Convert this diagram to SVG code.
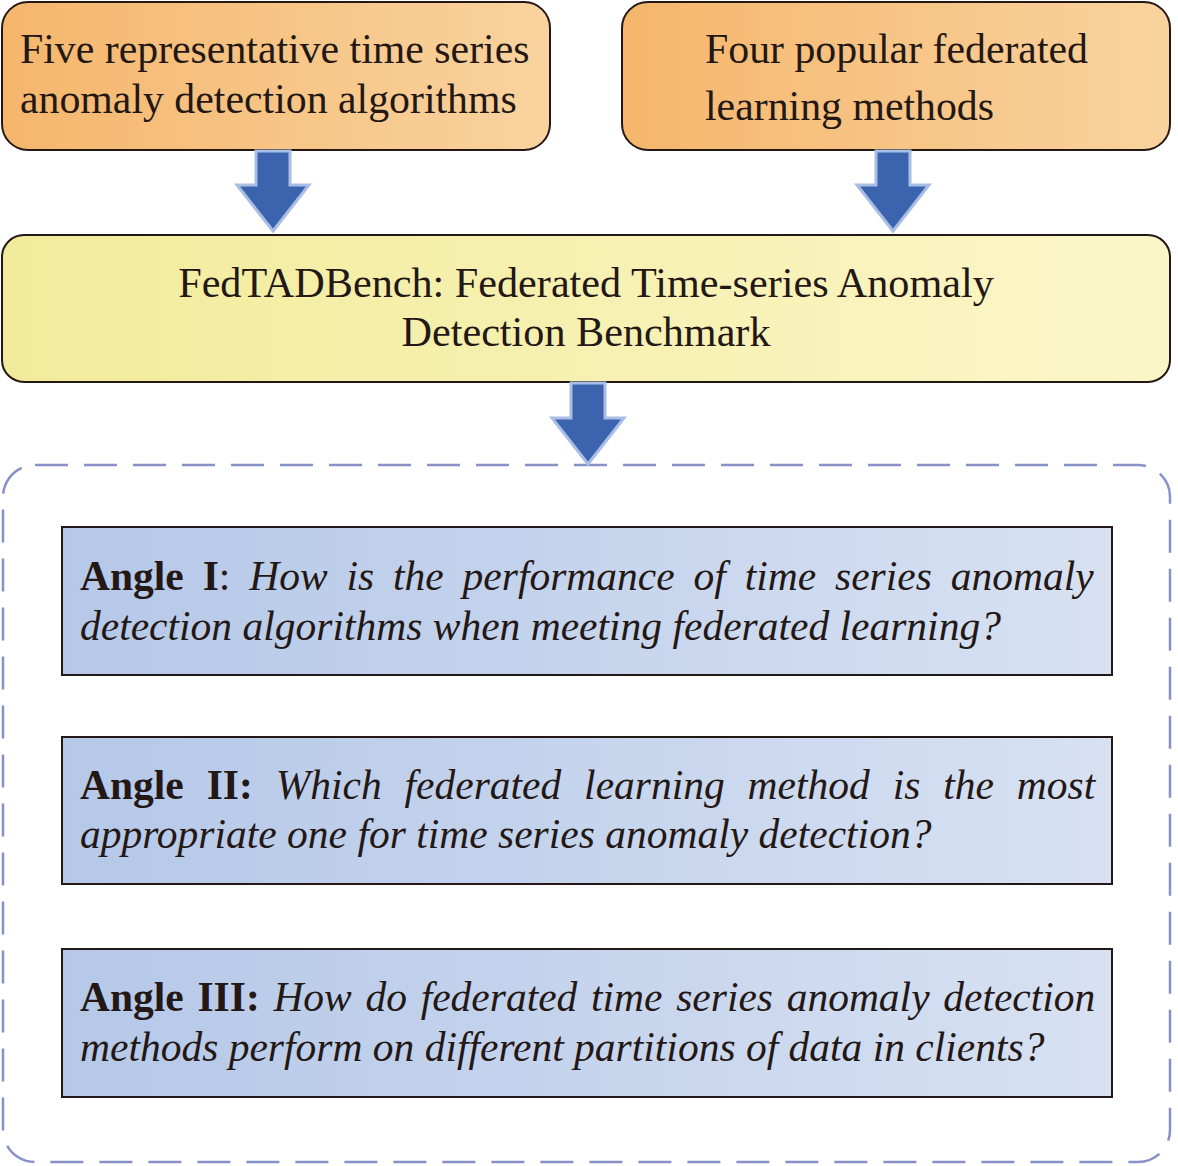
<svg xmlns="http://www.w3.org/2000/svg" width="1178" height="1166" viewBox="0 0 1178 1166">
<defs>
<linearGradient id="gOrange" x1="0" y1="0" x2="1" y2="0"><stop offset="0" stop-color="#f5b66c"/><stop offset="1" stop-color="#f9d39f"/></linearGradient>
<linearGradient id="gYellow" x1="0" y1="0" x2="1" y2="0"><stop offset="0" stop-color="#f2eb9b"/><stop offset="1" stop-color="#fbf6c8"/></linearGradient>
<linearGradient id="gBlue" x1="0" y1="0" x2="1" y2="0"><stop offset="0" stop-color="#b5c8e8"/><stop offset="1" stop-color="#d7e1f2"/></linearGradient>
<style>
.box{stroke:#231815;stroke-width:2}
.t{font-family:"Liberation Serif","Times New Roman",serif;font-size:41.8px;fill:#231815}
.q{font-size:41.5px}
.b{font-weight:bold;font-style:normal}
.i{font-style:italic}
.arrow{fill:#3b63ae;stroke:#a9bde5;stroke-width:3;stroke-linejoin:miter}
.dash{fill:none;stroke:#8890c8;stroke-width:2.5;stroke-dasharray:33 16}
</style>
</defs>
<g id="container"><rect class="dash" x="3" y="465" width="1167" height="697" rx="32"/></g>
<g id="node-algorithms">
<rect class="box" x="2" y="2" width="548" height="148" rx="26" fill="url(#gOrange)"/>
<text class="t" x="20" y="63">Five representative time series</text>
<text class="t" x="20" y="113">anomaly detection algorithms</text>
</g>
<g id="node-fl">
<rect class="box" x="622" y="2" width="548" height="148" rx="26" fill="url(#gOrange)"/>
<text class="t" x="705" y="63">Four popular federated</text>
<text class="t" x="705" y="120">learning methods</text>
</g>
<g id="node-bench">
<rect class="box" x="2" y="235" width="1168" height="147" rx="22" fill="url(#gYellow)"/>
<text class="t" x="586" y="297" text-anchor="middle" style="font-size:42.2px">FedTADBench: Federated Time-series Anomaly</text>
<text class="t" x="586" y="346" text-anchor="middle" style="font-size:42.2px">Detection Benchmark</text>
</g>
<g id="node-angle1">
<rect class="box" x="62" y="527" width="1050" height="148" fill="url(#gBlue)"/>
<text class="t q" x="80" y="590" word-spacing="8.5"><tspan class="b">Angle I</tspan>: <tspan class="i">How is the performance of time series anomaly</tspan></text>
<text class="t q i" x="80" y="640">detection algorithms when meeting federated learning?</text>
</g>
<g id="node-angle2">
<rect class="box" x="62" y="737" width="1050" height="147" fill="url(#gBlue)"/>
<text class="t q" x="80" y="799" word-spacing="12.5"><tspan class="b">Angle II:</tspan> <tspan class="i">Which federated learning method is the most</tspan></text>
<text class="t q i" x="80" y="848">appropriate one for time series anomaly detection?</text>
</g>
<g id="node-angle3">
<rect class="box" x="62" y="949" width="1050" height="148" fill="url(#gBlue)"/>
<text class="t q" x="80" y="1011" word-spacing="3.3"><tspan class="b">Angle III:</tspan> <tspan class="i">How do federated time series anomaly detection</tspan></text>
<text class="t q i" x="80" y="1061">methods perform on different partitions of data in clients?</text>
</g>
<g id="connectors">
<path class="arrow" d="M256,151 H290 V185 H309 L273,231 L237,185 H256 Z"/>
<path class="arrow" d="M876,151 H910 V185 H929 L893,231 L857,185 H876 Z"/>
<path class="arrow" d="M571,383 H605 V418 H624 L588,464 L552,418 H571 Z"/>
</g>
</svg>
